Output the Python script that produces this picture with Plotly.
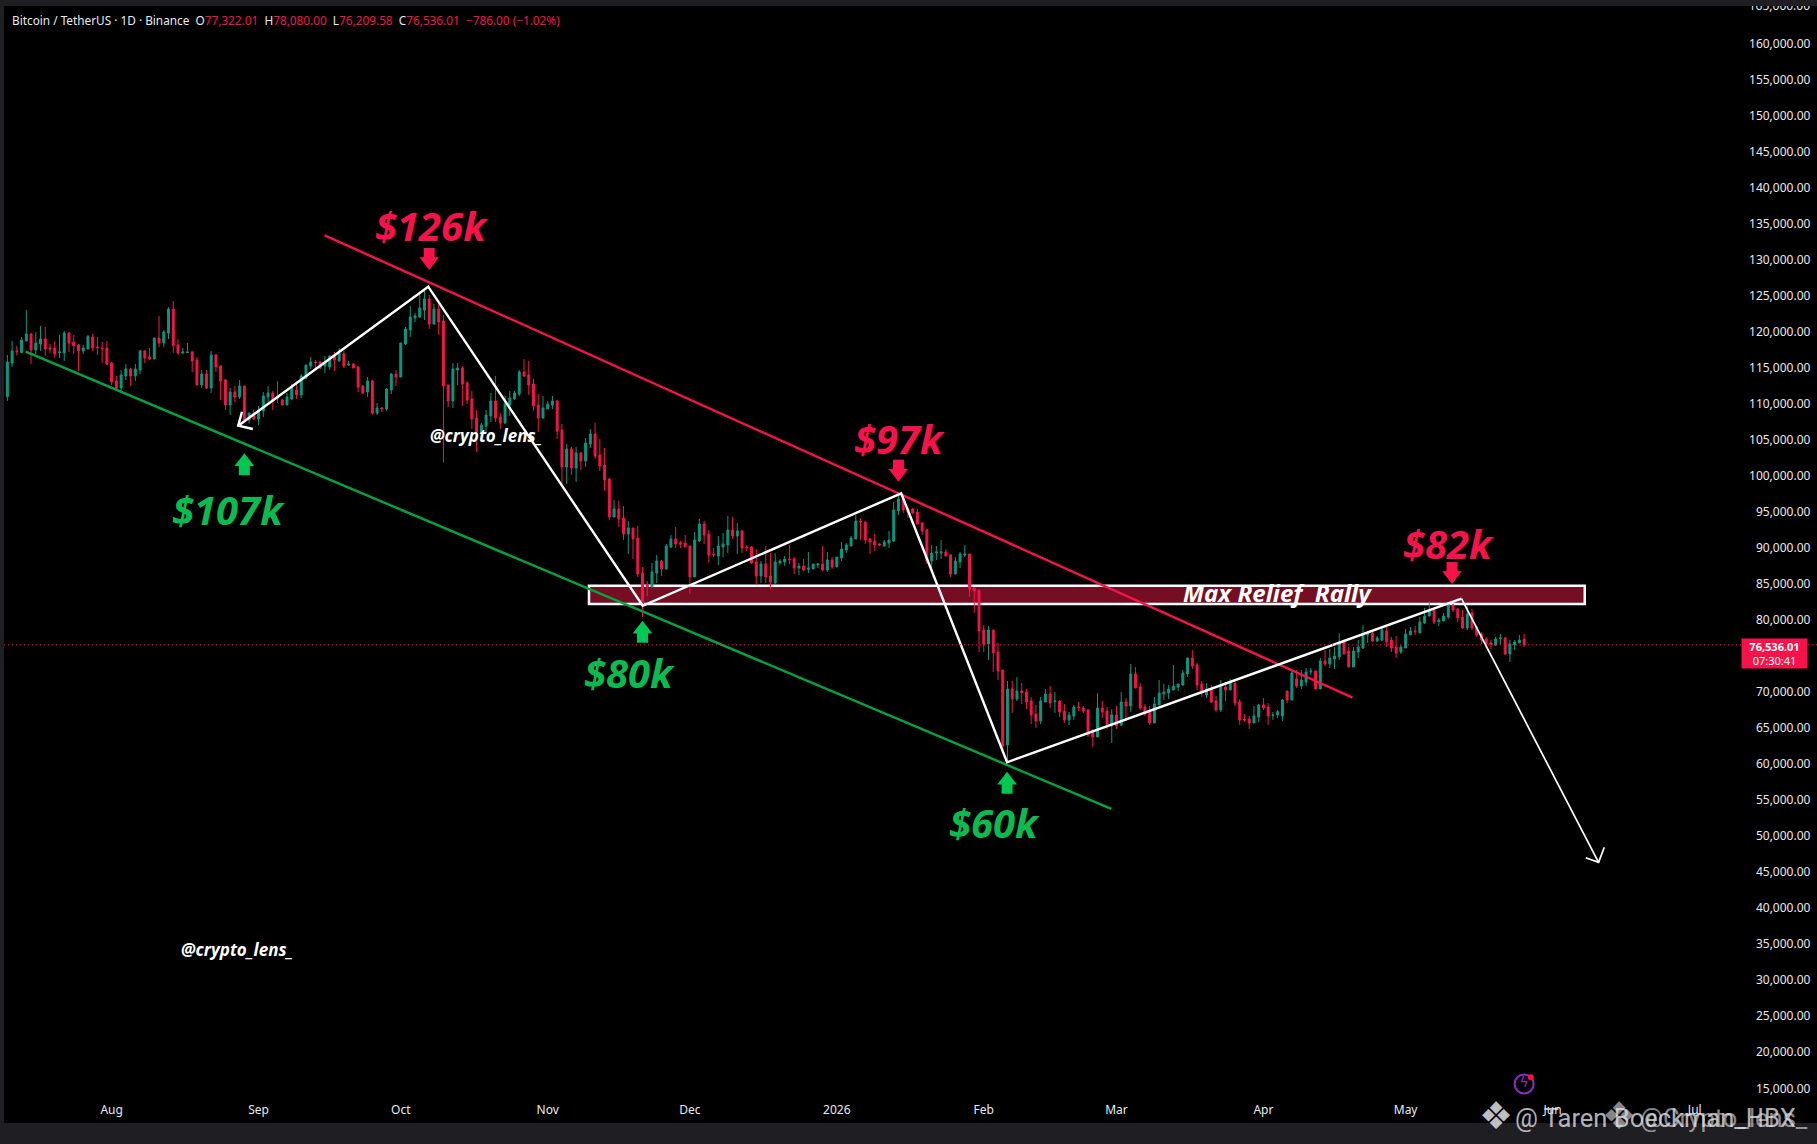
import pandas as pd
import plotly.graph_objects as go

# Candles, one per day from 2025-07-10
first_day = "2025-07-10"
opens = [
    110970, 115640, 117310, 117080, 118690, 119670, 117450, 118280, 118970, 117720,
    117720, 117080, 117030, 119800, 118560, 118140, 117310, 117580, 119250, 117860,
    117720, 117720, 115640, 113140, 112170, 113840, 114810, 113840, 114670, 117310,
    116470, 116200, 119110, 118420, 119800, 123130, 118140, 117030, 117080, 117170,
    116060, 112590, 114120, 112170, 116750, 115230, 113280, 109810, 111620, 110920,
    112450, 107730, 108700, 107870, 108980, 110920, 111480, 110920, 110510, 109810,
    110650, 111890, 111200, 113560, 115220, 115780, 115780, 115220, 115090, 116610,
    115920, 116890, 115360, 115500, 115090, 112450, 111620, 113140, 108700, 109400,
    109260, 111890, 114110, 113700, 118280, 120220, 121890, 122020, 122990, 124520,
    121050, 123130, 121470, 112590, 110370, 114670, 114950, 112870, 110650, 108010,
    106070, 106900, 108290, 110370, 108150, 107320, 109810, 110650, 111340, 114390,
    113980, 112730, 109810, 108010, 109260, 109810, 110370, 106340, 101210, 103710,
    101070, 103150, 102040, 104400, 105790, 102880, 101490, 99550, 94270, 95380,
    94130, 91910, 92750, 91360, 86500, 84980, 84560, 86500, 88170, 87060,
    90110, 91220, 90670, 90670, 90250, 85950, 90940, 93300, 91910, 89140,
    88860, 90110, 90390, 92470, 91640, 92330, 90110, 90110, 88030, 86090,
    87750, 86090, 85120, 87890, 88030, 88450, 88450, 87200, 87470, 87010,
    87060, 87610, 87750, 86920, 88310, 87340, 88580, 89690, 90250, 91220,
    93720, 93580, 91220, 90940, 90530, 90250, 90670, 90940, 95110, 96770,
    95380, 95380, 94970, 93440, 92470, 88170, 89280, 89280, 89420, 89000,
    86360, 88030, 89000, 89140, 84420, 84140, 78590, 76650, 78590, 75540,
    73040, 62640, 70410, 69020, 70130, 69990, 68740, 66940, 65970, 68600,
    69710, 68650, 68740, 67350, 66110, 66660, 67910, 67770, 67490, 64580,
    63750, 67770, 67350, 65410, 66800, 65410, 68600, 68050, 72490, 70680,
    67910, 67220, 65690, 68190, 69710, 69850, 70270, 70680, 70960, 72490,
    74710, 73740, 71100, 69570, 70410, 68740, 67490, 70680, 70270, 71240,
    68600, 66240, 66240, 65690, 66520, 68190, 67910, 66710, 66800, 66660,
    70130, 68880, 71790, 70820, 71380, 72810, 72900, 70410, 74290, 73870,
    74570, 74850, 77070, 75680, 73460, 75540, 76090, 77900, 78180, 77070,
    77200, 78450, 77200, 76230, 75540, 76090, 77900, 78450, 78180, 79560,
    80530, 81370, 79750, 79840, 80400, 82060, 81510, 80400, 78870, 80950,
    79010, 78040, 77340, 76790, 76510, 77390, 77480, 75260, 76510, 76790,
    77322.01,
]
highs = [
    116750, 118690, 118000, 119250, 123000, 119760, 119900, 120780, 120640, 118280,
    118690, 119530, 120080, 119940, 119530, 118280, 118140, 119530, 119670, 119250,
    118600, 118690, 115780, 113840, 114670, 115500, 114950, 115500, 117450, 117450,
    117720, 119110, 122160, 120220, 123370, 124240, 118970, 117720, 118420, 117310,
    116470, 114670, 114670, 117310, 116890, 115360, 113420, 112170, 112450, 113280,
    112450, 108700, 109210, 109680, 111620, 112450, 111760, 113140, 110650, 111480,
    112730, 113140, 114110, 115360, 116470, 116060, 115920, 116610, 116750, 117170,
    117720, 117310, 115920, 115640, 115220, 112590, 113700, 113280, 110090, 109540,
    112170, 114250, 114670, 118420, 120640, 123550, 122580, 125490, 126050, 125080,
    123830, 123830, 122300, 112590, 115640, 115640, 115220, 113140, 111760, 109120,
    107320, 109120, 111480, 113840, 108700, 111060, 111760, 111760, 114670, 116200,
    115920, 113420, 111340, 111060, 110370, 111060, 110510, 107180, 104400, 103990,
    103990, 103290, 105230, 106480, 107320, 105100, 103850, 99680, 96630, 96490,
    95800, 93720, 92750, 93020, 87340, 85390, 87890, 89000, 88310, 90530,
    91780, 92890, 90940, 91780, 90250, 92190, 94000, 93720, 92470, 89970,
    91640, 92050, 94410, 94270, 93440, 92470, 90390, 90250, 89830, 88170,
    90250, 89280, 89230, 88450, 88860, 90390, 88720, 87890, 88450, 89420,
    87750, 87890, 90250, 89420, 88720, 88720, 90800, 90670, 91640, 94550,
    94130, 93580, 91360, 91910, 90670, 91080, 92330, 96350, 97740, 97460,
    95660, 95520, 95380, 93580, 92610, 90390, 90250, 91080, 89830, 89140,
    88720, 89420, 90390, 89140, 84560, 84140, 79290, 79150, 78590, 76790,
    73040, 71520, 71520, 72070, 71240, 70410, 69300, 68190, 69300, 70410,
    70820, 69990, 68880, 68330, 67220, 68190, 68600, 68050, 67630, 64860,
    69850, 68740, 67910, 67630, 68050, 69990, 69160, 73880, 73460, 71240,
    68330, 68050, 69300, 71660, 71100, 70960, 73740, 71100, 73040, 74710,
    75820, 74010, 71520, 71240, 70960, 69440, 71660, 71380, 71790, 71240,
    69020, 66940, 66660, 68050, 68330, 69160, 68460, 67220, 67500, 69020,
    70130, 72900, 73040, 73040, 73320, 73320, 72900, 74710, 75820, 75960,
    76230, 78180, 77200, 76230, 76230, 77200, 79290, 78450, 78450, 77760,
    78870, 79010, 77620, 77760, 76510, 78730, 79010, 79150, 80400, 81640,
    82620, 81510, 80260, 80950, 82480, 82200, 81640, 81370, 81920, 81510,
    79150, 78310, 77620, 77200, 77620, 78040, 77620, 77200, 77200, 77900,
    78080.00,
]
lows = [
    110370, 115090, 116700, 117080, 118690, 115500, 116890, 117310, 116610, 117030,
    116340, 116340, 115920, 117170, 116890, 114480, 116890, 117580, 117310, 116750,
    115640, 115360, 112590, 111760, 111760, 113280, 112450, 113140, 114120, 115640,
    116060, 116200, 117860, 117860, 118970, 117030, 116750, 116890, 117030, 114390,
    112590, 112170, 112030, 111480, 114390, 110510, 109120, 108430, 110230, 110650,
    107270, 107270, 107730, 107040, 108150, 110230, 109120, 110090, 109810, 109810,
    110510, 110650, 110780, 113420, 114810, 114950, 114810, 114250, 114670, 114530,
    115780, 114950, 115220, 114950, 111620, 111340, 110920, 108430, 108430, 108840,
    108980, 111340, 112450, 113700, 118140, 119250, 121330, 121890, 121610, 120360,
    120910, 119530, 101810, 109540, 109400, 112590, 109680, 109950, 106480, 103290,
    105790, 105790, 107450, 107450, 106480, 107180, 108290, 110510, 111060, 113700,
    111200, 108980, 106070, 107870, 109260, 109260, 105100, 98850, 98850, 100100,
    99130, 100790, 101210, 103850, 102320, 100660, 97880, 93860, 94270, 92890,
    91080, 89140, 88450, 85950, 80400, 83310, 84560, 85120, 86090, 86920,
    89970, 89970, 89970, 90110, 83590, 85950, 90800, 90530, 87890, 88720,
    87610, 88720, 89280, 91220, 89140, 89280, 89560, 87750, 84980, 85120,
    85120, 84280, 84980, 87610, 87470, 87750, 86360, 86230, 86780, 86500,
    87060, 87200, 86780, 86640, 87060, 87340, 88170, 89280, 90250, 91220,
    91080, 90530, 89140, 89560, 90250, 90110, 89970, 90800, 94550, 94830,
    94130, 94690, 93300, 91780, 87750, 87060, 88310, 88450, 88860, 85950,
    86360, 87200, 88720, 83170, 80950, 75540, 75540, 74430, 72770, 71660,
    61480, 60560, 67080, 68740, 68330, 67630, 65550, 65000, 65550, 68600,
    67770, 67080, 66520, 65690, 65410, 66110, 67350, 67080, 63750, 62360,
    63750, 66380, 64860, 62910, 64860, 65270, 65970, 67220, 70550, 67490,
    66660, 65410, 65690, 68190, 68880, 69020, 70270, 70130, 70820, 72070,
    73180, 70270, 69300, 69160, 68460, 67220, 67220, 68740, 70270, 68050,
    65410, 65830, 64860, 65690, 65830, 67490, 65410, 66110, 66400, 65970,
    68420, 68880, 70550, 70410, 70820, 72350, 70410, 70410, 73600, 73320,
    73180, 74430, 75260, 73460, 73460, 74710, 75960, 76790, 76930, 76930,
    77070, 76230, 75540, 74710, 75260, 76090, 77900, 77900, 78180, 79420,
    80530, 79420, 79150, 79840, 80120, 81090, 79700, 78730, 78590, 78590,
    77620, 76650, 76090, 75960, 76370, 76510, 75120, 74150, 75820, 76790,
    76209.58,
]
closes = [
    115780, 117310, 117210, 118830, 119670, 117450, 118420, 118970, 117580, 117580,
    116890, 117170, 119800, 118420, 118000, 117310, 117720, 119300, 117720, 117770,
    117630, 115500, 113000, 112130, 113980, 114810, 113840, 114810, 117310, 116340,
    116200, 119110, 118420, 119940, 123130, 118050, 117030, 117170, 117170, 115920,
    112590, 114120, 112170, 116750, 115090, 113140, 109810, 111620, 110920, 112450,
    107730, 108700, 107870, 109120, 111060, 111480, 110370, 110790, 109810, 110920,
    112310, 111200, 113840, 115360, 115780, 115690, 114950, 115780, 116610, 116060,
    117030, 115220, 115500, 114950, 112310, 111480, 113140, 108700, 109400, 109260,
    112030, 114110, 113700, 118420, 120360, 122020, 122160, 123270, 124520, 121050,
    123130, 121330, 112450, 110370, 114810, 114950, 112730, 110510, 107870, 106070,
    107040, 108430, 110370, 108010, 107320, 109950, 110780, 111480, 114390, 113840,
    112590, 109670, 108010, 109400, 109950, 110370, 106200, 101210, 103710, 101070,
    103150, 102040, 104540, 105790, 102740, 101350, 99410, 94270, 95380, 94000,
    91910, 92750, 91220, 86360, 82200, 84560, 86640, 88170, 87060, 90250,
    91220, 90530, 90530, 90110, 85950, 91080, 93300, 91780, 89000, 89000,
    90250, 90530, 92470, 91640, 92330, 89970, 90020, 87890, 86090, 87750,
    85950, 85250, 88030, 88170, 88450, 88350, 87200, 87470, 86920, 87200,
    87750, 87750, 86920, 88310, 87340, 88720, 89830, 90390, 91360, 93720,
    93580, 91080, 90800, 90390, 90390, 90800, 91080, 95240, 96770, 95240,
    94970, 94830, 93300, 92330, 88170, 89280, 89420, 89420, 88860, 86360,
    88170, 89140, 89140, 84280, 84000, 78450, 76650, 78590, 75400, 72900,
    62500, 70410, 69020, 70130, 69900, 68600, 66800, 65970, 68740, 69710,
    68460, 68740, 67220, 66110, 66800, 67910, 67820, 67350, 64020, 63750,
    67770, 67220, 65550, 66800, 65270, 68600, 68050, 72490, 70550, 67770,
    66940, 65690, 68330, 69850, 69990, 70410, 70820, 71100, 72630, 74710,
    73600, 70960, 69850, 70410, 68600, 67490, 70960, 70270, 71380, 68460,
    66110, 66110, 65690, 66660, 68190, 67770, 66660, 66800, 67260, 68880,
    68880, 72630, 70820, 71650, 72770, 72900, 70410, 74290, 73870, 74710,
    74980, 76930, 75260, 73460, 75680, 76230, 78040, 78310, 77070, 77480,
    78590, 76930, 76090, 75400, 76230, 78040, 78450, 78360, 79700, 80530,
    81230, 79700, 79980, 80530, 82200, 81370, 80260, 78870, 80810, 78870,
    77900, 77200, 76650, 76600, 77340, 77480, 75260, 76650, 76930, 77200,
    76536.01,
]

# Axis ticks, 75,000 sits under the last price tag in the picture
price_ticks = [p * 1000 for p in range(15, 165, 5) if p != 75]
month_ticks = ["2025-08-01", "2025-09-01", "2025-10-01", "2025-11-01", "2025-12-01", "2026-01-01",
               "2026-02-01", "2026-03-01", "2026-04-01", "2026-05-01", "2026-06-01", "2026-07-01"]
month_labels = ["Aug", "Sep", "Oct", "Nov", "Dec", "2026", "Feb", "Mar", "Apr", "May", "Jun", "Jul"]
last_price = 76536.01

# Channel lines
red_dates = ["2025-09-14 22:00", "2026-04-19 19:00"]
red_prices = [133360, 69210]
green_dates = ["2025-07-13 21:00", "2026-02-27 22:00"]
green_prices = [117210, 53770]

# White zigzag, from the first arrow tip to the last one
zig_dates = ["2025-08-27 17:00", "2025-10-06 19:00", "2025-11-21 01:00", "2026-01-14 14:00",
             "2026-02-05 22:00", "2026-05-12 19:00"]
zig_prices = [106940, 126230, 81960, 97560, 60240, 82940]
down_dates = ["2026-05-12 19:00", "2026-06-10 17:00"]
down_prices = [82940, 46360]
head1_dates = ["2025-08-28 12:00", "2025-08-27 17:00", "2025-08-30 19:00"]
head1_prices = [108880, 106940, 106480]
head2_dates = ["2026-06-08 00:00", "2026-06-10 17:00", "2026-06-11 22:00"]
head2_prices = [47000, 46360, 48440]

# Block arrows
red_arrow_dates = ["2025-10-07", "2026-01-14", "2026-05-10 19:00"]
red_head_prices = [129720, 100350, 86150]
red_stem_prices = [130830, 101460, 87260]
green_arrow_dates = ["2025-08-29", "2025-11-21", "2026-02-05 22:00"]
green_head_prices = [101930, 78700, 57750]
green_stem_prices = [100820, 77590, 56640]

# Big price labels
red_labels = ["$126k", "$97k", "$82k"]
red_label_dates = ["2025-10-07 14:00", "2026-01-14 05:00", "2026-05-10"]
red_label_prices = [134650, 105230, 90600]
green_labels = ["$107k", "$80k", "$60k"]
green_label_dates = ["2025-08-25 14:00", "2025-11-18 05:00", "2026-02-03 05:00"]
green_label_prices = [95260, 72750, 51840]

# Max relief box
box_dates = ["2025-11-09 17:00", "2026-06-07 19:00"]
box_prices = [82200, 84740]

up_color = "#089981"
down_color = "#F7134A"
green_color = "#00A63C"
arrow_green = "#00C853"
label_green = "#0CBB50"
text_font = "Noto Sans"
scale_color = "#E8EAF0"

dates = pd.date_range(first_day, periods=len(opens))

fig = go.Figure()

fig.add_trace(go.Candlestick(
    x=dates, open=opens, high=highs, low=lows, close=closes,
    increasing=dict(line=dict(color=up_color, width=1), fillcolor=up_color),
    decreasing=dict(line=dict(color=down_color, width=1), fillcolor=down_color),
    whiskerwidth=0, showlegend=False,
))


def add_line(xs, ys, color, width=2.4):
    fig.add_trace(go.Scatter(x=xs, y=ys, mode="lines", showlegend=False,
                             line=dict(color=color, width=width)))


add_line(green_dates, green_prices, green_color)
add_line(red_dates, red_prices, down_color)
add_line(zig_dates, zig_prices, "white")
add_line(down_dates, down_prices, "white", 1.7)
add_line(head1_dates, head1_prices, "white")
add_line(head2_dates, head2_prices, "white", 1.7)

# Block arrows are a triangle and a square on top of each other
fig.add_trace(go.Scatter(x=red_arrow_dates, y=red_head_prices, mode="markers", showlegend=False,
                         marker=dict(symbol="triangle-down", size=17, color=down_color)))
fig.add_trace(go.Scatter(x=red_arrow_dates, y=red_stem_prices, mode="markers", showlegend=False,
                         marker=dict(symbol="square", size=11, color=down_color)))
fig.add_trace(go.Scatter(x=green_arrow_dates, y=green_head_prices, mode="markers", showlegend=False,
                         marker=dict(symbol="triangle-up", size=17, color=arrow_green)))
fig.add_trace(go.Scatter(x=green_arrow_dates, y=green_stem_prices, mode="markers", showlegend=False,
                         marker=dict(symbol="square", size=11, color=arrow_green)))

# Lightning badge near the bottom
fig.add_trace(go.Scatter(x=["2026-05-26"], y=[15600], mode="markers+text", showlegend=False,
                         text=["ϟ"], textposition="middle center",
                         textfont=dict(family="DejaVu Sans", size=14, color="#8E2DC2"),
                         marker=dict(symbol="circle-open", size=19, color="#8E2DC2", line=dict(width=2))))
fig.add_trace(go.Scatter(x=["2026-05-27 10:00"], y=[16530], mode="markers", showlegend=False,
                         marker=dict(symbol="circle", size=6, color=down_color)))

# Top scale label: a text mark so the plot area cuts it off like in the picture
fig.add_trace(go.Scatter(x=["2026-07-25 08:00"], y=[165000], mode="text", showlegend=False,
                         text=["165,000.00"], textposition="middle left",
                         textfont=dict(family=text_font, size=12, color=scale_color)))

fig.add_shape(type="rect", layer="below", x0=box_dates[0], x1=box_dates[1],
              y0=box_prices[0], y1=box_prices[1], fillcolor="#750D23", line=dict(color="white", width=2.5))
fig.add_shape(type="line", xref="paper", x0=0, x1=1, y0=last_price, y1=last_price,
              line=dict(color=down_color, width=1, dash="1px,3px"))

for text, x, y in zip(red_labels, red_label_dates, red_label_prices):
    fig.add_annotation(x=x, y=y, text=f"<b><i>{text}</i></b>", showarrow=False,
                       font=dict(family=text_font, size=40, color=down_color))
for text, x, y in zip(green_labels, green_label_dates, green_label_prices):
    fig.add_annotation(x=x, y=y, text=f"<b><i>{text}</i></b>", showarrow=False,
                       font=dict(family=text_font, size=40, color=label_green))

fig.add_annotation(x="2026-04-04", y=83800, text="<b><i>Max Relief  Rally</i></b>", showarrow=False,
                   font=dict(family=text_font, size=24, color="white"))
fig.add_annotation(x="2025-10-19", y=105550, text="<b><i>@crypto_lens_</i></b>", showarrow=False,
                   font=dict(family=text_font, size=17, color="white"))
fig.add_annotation(x="2025-08-27 12:00", y=34200, text="<b><i>@crypto_lens_</i></b>", showarrow=False,
                   font=dict(family=text_font, size=17, color="white"))

# Legend line at the top left
red = f"<span style='color:{down_color}'>"
header = ("Bitcoin / TetherUS · 1D · Binance  "
          f"O{red}77,322.01</span>  H{red}78,080.00</span>  L{red}76,209.58</span>  "
          f"C{red}76,536.01</span>  {red}−786.00 (−1.02%)</span>")
fig.add_annotation(xref="paper", yref="paper", x=0.0033, y=0.9875, xanchor="left", yanchor="middle",
                   text=header, showarrow=False, font=dict(family=text_font, size=11.8, color=scale_color))

# Last price tag on the scale
fig.add_annotation(xref="paper", x=0.9767, y=75330, xanchor="center", width=63, height=27,
                   bgcolor=down_color, showarrow=False,
                   text="<b>76,536.01</b><br>07:30:41", font=dict(family=text_font, size=11, color="white"))

# Overlapping watermarks, bottom right
wm_y = -0.0105
logo_y = -0.0150
fig.add_annotation(xref="paper", yref="paper", x=0.8229, y=logo_y, xanchor="center", text="❖", showarrow=False,
                   font=dict(family="DejaVu Sans", size=38, color="rgba(225,225,230,0.85)"))
fig.add_annotation(xref="paper", yref="paper", x=0.8325, y=wm_y, xanchor="left", text="@ Taren Boeckman_HBX",
                   showarrow=False, font=dict(family="Roboto", size=25.5, color="rgba(225,225,230,0.8)"))
fig.add_annotation(xref="paper", yref="paper", x=0.8910, y=logo_y, xanchor="center", text="❖", showarrow=False,
                   font=dict(family="DejaVu Sans", size=38, color="rgba(225,225,230,0.6)"))
fig.add_annotation(xref="paper", yref="paper", x=0.9013, y=wm_y, xanchor="left", text="@Crypto_lens_",
                   showarrow=False, font=dict(family="Roboto", size=25.5, color="rgba(225,225,230,0.6)"))

fig.update_layout(
    width=1817, height=1144,
    margin=dict(l=4, r=0, t=6, b=21),
    paper_bgcolor="#1F1F23", plot_bgcolor="black",
    boxgap=0.42,
    showlegend=False,
    hovermode=False,
    xaxis=dict(
        type="date", range=["2025-07-09 07:00", "2026-07-26 19:00"],
        rangeslider=dict(visible=False), showgrid=False, zeroline=False, showline=False,
        tickmode="array", tickvals=month_ticks, ticktext=month_labels,
        ticklabelposition="inside", ticks="inside", ticklen=6, tickcolor="black",
        tickfont=dict(family=text_font, size=12, color=scale_color),
    ),
    yaxis=dict(
        side="right", range=[10187, 165175], showgrid=False, zeroline=False, showline=False,
        tickmode="array", tickvals=price_ticks, tickformat=",.2f",
        ticklabelposition="inside", ticks="inside", ticklen=6, tickcolor="black",
        tickfont=dict(family=text_font, size=12, color=scale_color),
    ),
)

fig.write_html("out.html", config={"displayModeBar": False},
               post_script="document.body.style.margin='0';")
